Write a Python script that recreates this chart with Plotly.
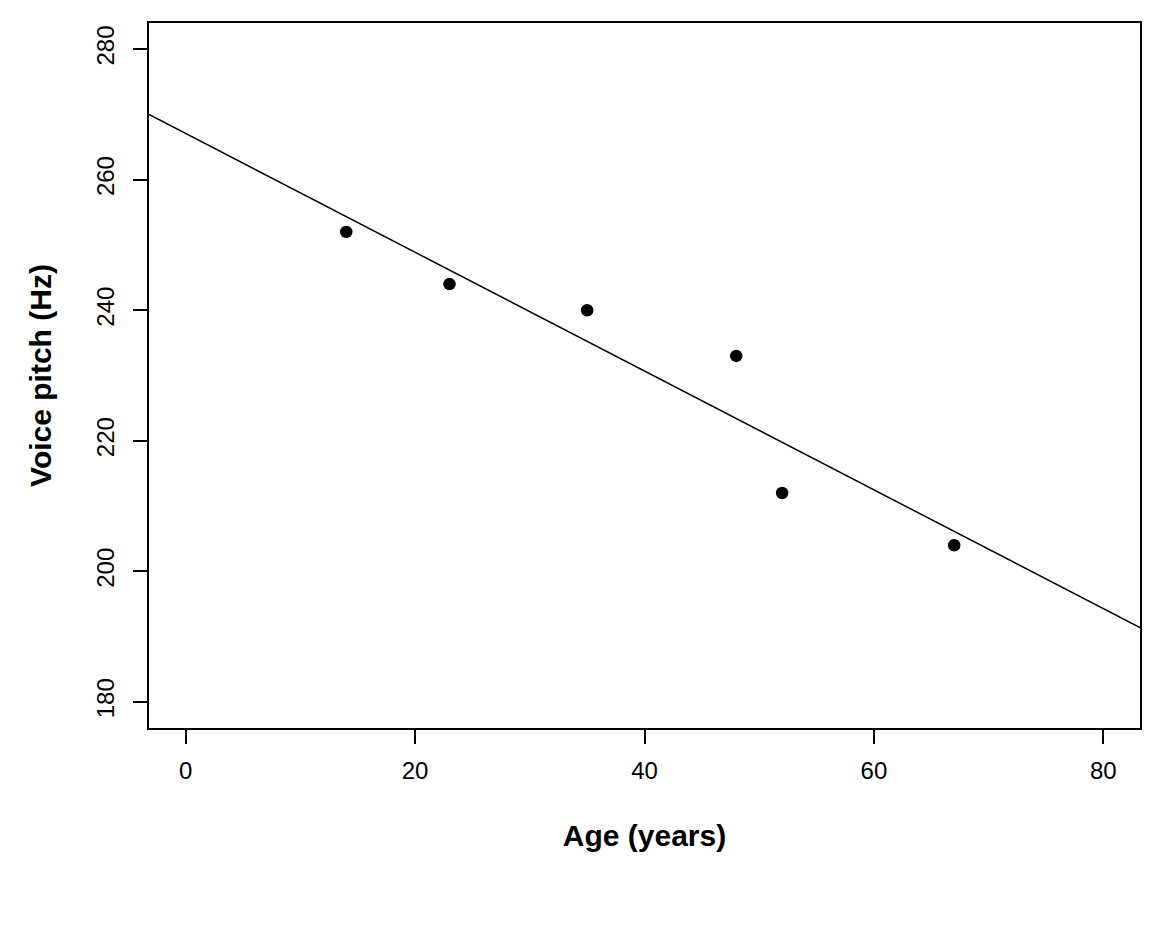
import numpy as np
import plotly.graph_objects as go

# Edad y tono de voz
age = [14, 23, 35, 48, 52, 67]
pitch = [252, 244, 240, 233, 212, 204]

x_ticks = [0, 20, 40, 60, 80]
y_ticks = [180, 200, 220, 240, 260, 280]

# rango al estilo R: limites +/- 4%
x_range = [0 - 0.04 * 80, 80 + 0.04 * 80]
y_range = [180 - 0.04 * 100, 280 + 0.04 * 100]

slope, intercept = np.polyfit(age, pitch, 1)
line_x = np.array(x_range)
line_y = intercept + slope * line_x

FONT = "Liberation Sans, Arial, sans-serif"

fig = go.Figure()
fig.add_trace(go.Scatter(
    x=line_x, y=line_y, mode="lines",
    line=dict(color="black", width=1.5),
    hoverinfo="skip", showlegend=False,
))
fig.add_trace(go.Scatter(
    x=age, y=pitch, mode="markers",
    marker=dict(color="black", size=12.5),
    showlegend=False,
))

axis_common = dict(
    showgrid=False, zeroline=False,
    showline=True, linecolor="black", linewidth=1.5, mirror=True,
    ticks="outside", ticklen=14, tickwidth=1.5, tickcolor="black",
    tickfont=dict(family=FONT, size=24, color="black"),
)
fig.update_xaxes(
    range=x_range, tickvals=x_ticks, ticklabelstandoff=6,
    title=dict(text="<b>Age (years)</b>", font=dict(family=FONT, size=30, color="black"), standoff=42),
    **axis_common,
)
fig.update_yaxes(
    range=y_range, tickvals=y_ticks, tickangle=-90, ticklabelstandoff=10,
    title=dict(text="<b>Voice pitch (Hz)</b>", font=dict(family=FONT, size=30, color="black"), standoff=31),
    **axis_common,
)
fig.update_layout(
    width=1161, height=926,
    margin=dict(l=141, r=29, t=15, b=206),
    plot_bgcolor="white", paper_bgcolor="white",
)
fig.write_html("out.html")
